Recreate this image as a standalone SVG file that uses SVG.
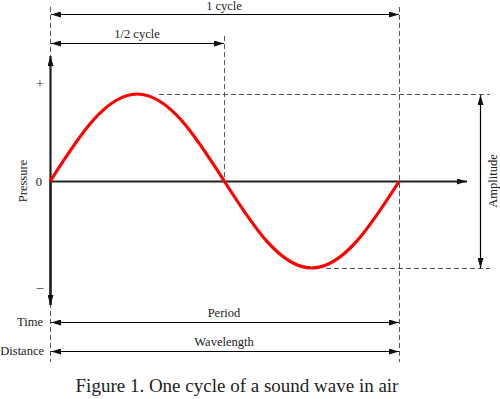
<svg xmlns="http://www.w3.org/2000/svg" width="500" height="399" viewBox="0 0 500 399">
<style>
text{font-family:"Liberation Serif","Times New Roman",serif;fill:#222;font-size:12.5px}
.dash{stroke:#555;stroke-width:1;stroke-dasharray:5,3;fill:none}
.dim{stroke:#000;stroke-width:1.2;fill:none}
.axis{stroke:#222;stroke-width:2.2;fill:none}
</style>
<defs>
<marker id="ah" viewBox="0 0 10 6" refX="10" refY="3" markerWidth="10" markerHeight="6" markerUnits="userSpaceOnUse" orient="auto-start-reverse">
<path d="M0,0 L10,3 L0,6 Z" fill="#111"/>
</marker>
</defs>
<rect width="500" height="399" fill="#fff"/>
<g id="guides">
<line class="dash" x1="50.5" y1="7" x2="50.5" y2="362"/>
<line class="dash" x1="399.5" y1="7" x2="399.5" y2="362"/>
<line class="dash" x1="224.5" y1="36" x2="224.5" y2="181"/>
<line class="dash" x1="159" y1="94.5" x2="490" y2="94.5"/>
<line class="dash" x1="326" y1="268.5" x2="490" y2="268.5"/>
</g>
<g id="axes">
<line class="axis" x1="50.5" y1="305" x2="50.5" y2="56" marker-end="url(#ah)"/>
<line class="axis" x1="50.5" y1="181" x2="50.5" y2="305" marker-end="url(#ah)"/>
<line class="axis" x1="50" y1="181.5" x2="467" y2="181.5" marker-end="url(#ah)"/>
</g>
<g id="wave">
<path d="M50,181.5 C78.45,136.9 105.67,94 137.25,94 C168.83,94 196.05,136.9 224.5,181.5 C252.95,226 280.17,268 311.75,268 C343.33,268 370.55,226 399,181.5" fill="none" stroke="#f00" stroke-width="3.2"/>
</g>
<g id="connectors">
<line class="dim" x1="51" y1="14.5" x2="399" y2="14.5" marker-start="url(#ah)" marker-end="url(#ah)"/>
<line class="dim" x1="51" y1="43.5" x2="224" y2="43.5" marker-start="url(#ah)" marker-end="url(#ah)"/>
<line class="dim" x1="480.5" y1="95" x2="480.5" y2="268" marker-start="url(#ah)" marker-end="url(#ah)"/>
<line class="dim" x1="51" y1="322.5" x2="399" y2="322.5" marker-start="url(#ah)" marker-end="url(#ah)"/>
<line class="dim" x1="51" y1="351.5" x2="399" y2="351.5" marker-start="url(#ah)" marker-end="url(#ah)"/>
</g>
<g id="labels">
<text x="224" y="10" text-anchor="middle">1 cycle</text>
<text x="137" y="38" text-anchor="middle">1/2 cycle</text>
<text x="40" y="88" text-anchor="middle" style="font-size:13px">+</text>
<text x="42" y="186" text-anchor="end">0</text>
<text x="40" y="291" text-anchor="middle" style="font-size:13px">–</text>
<text transform="translate(27,181) rotate(-90)" text-anchor="middle">Pressure</text>
<text transform="translate(497,181) rotate(-90)" text-anchor="middle">Amplitude</text>
<text x="43" y="326" text-anchor="end">Time</text>
<text x="44" y="355" text-anchor="end">Distance</text>
<text x="224" y="317" text-anchor="middle">Period</text>
<text x="224" y="346" text-anchor="middle">Wavelength</text>
<text x="237" y="392" text-anchor="middle" style="font-size:19px">Figure 1. One cycle of a sound wave in air</text>
</g>
</svg>
